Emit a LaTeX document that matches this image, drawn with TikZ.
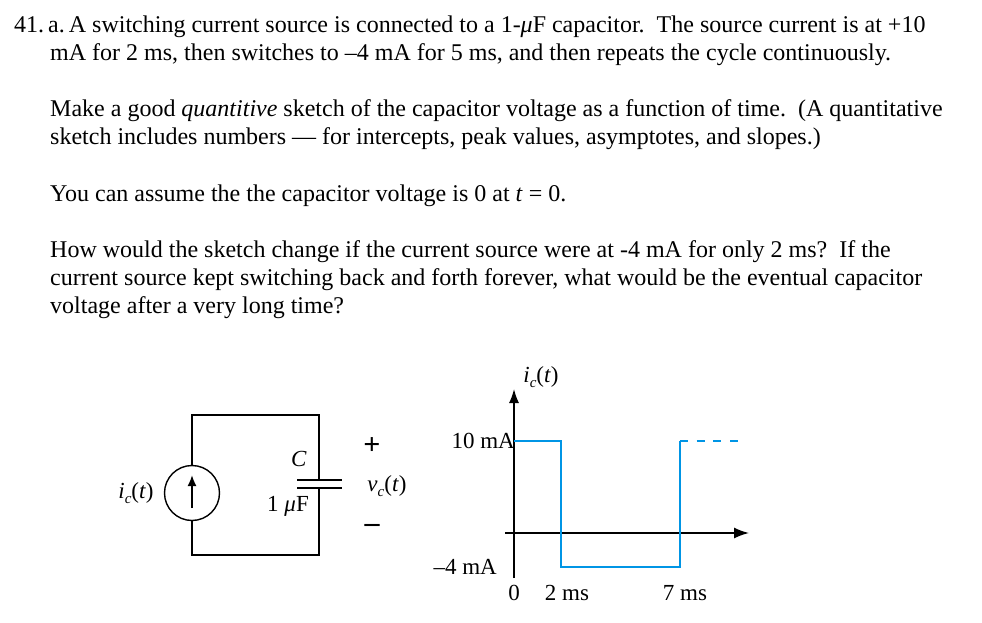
\documentclass[tikz,border=0pt]{standalone}
\usepackage{fontspec}
\setmainfont{Liberation Serif}
\usetikzlibrary{arrows.meta}
\tikzset{
 txt/.style={anchor=base west,inner sep=0pt,font=\fontsize{24}{28}\selectfont},
 lbl/.style={inner sep=0pt,font=\fontsize{23}{26}\selectfont},
 wire/.style={line width=1.4pt},
 sig/.style={line width=1.9pt,color=blue!35!cyan!90!black},
}
\newcommand{\subc}{\raisebox{-0.45ex}{\fontsize{15}{16}\selectfont\textit{c}}}
\begin{document}
\begin{tikzpicture}[x=1pt,y=-1pt]
\useasboundingbox (0,0) rectangle (982,623);
\node[txt] (l1) at (14,33) {41.\,a.\,A switching current source is connected to a 1-\textit{μ}F capacitor.\ \ The source current is at +10};
\node[txt] (l2) at (50,61) {mA for 2 ms, then switches to –4 mA for 5 ms, and then repeats the cycle continuously.};
\node[txt] (l3) at (50,117) {Make a good \textit{quantitive} sketch of the capacitor voltage as a function of time.\ \ (A quantitative};
\node[txt] (l4) at (50,145) {sketch includes numbers — for intercepts, peak values, asymptotes, and slopes.)};
\node[txt] (l5) at (50,201) {You can assume the the capacitor voltage is 0 at \textit{t} = 0.};
\node[txt] (l6) at (50,257) {How would the sketch change if the current source were at -4 mA for only 2 ms?\ \ If the};
\node[txt] (l7) at (50,285) {current source kept switching back and forth forever, what would be the eventual capacitor};
\node[txt] (l8) at (50,313) {voltage after a very long time?};
% circuit
\node[draw,circle,wire,minimum size=55pt,inner sep=0pt] (src) at (192,493) {};
\draw[wire] (src.north) -- (192,415) -- (319,415) -- (319,480);
\draw[wire] (src.south) -- (192,555) -- (319,555) -- (319,488);
\draw[line width=2pt] (297,480) -- (342,480);
\draw[line width=2pt] (297,488) -- (342,488);
\draw[line width=1.8pt,-{Latex[length=11pt,width=9pt]}] (192,508) -- (192,475);
\node[lbl] (ic) at (136,493) {\textit{i}\subc(\textit{t})};
\node[lbl] (C) at (299,459) {\textit{C}};
\node[lbl] (cap) at (288,506) {1 \textit{μ}F};
\node[lbl,font=\bfseries\fontsize{30}{30}\selectfont] (plus) at (372,446) {+};
\node[lbl,font=\bfseries\fontsize{30}{30}\selectfont] (minus) at (372,528) {–};
\node[lbl] (vc) at (387,486) {\textit{v}\subc(\textit{t})};
% graph
\coordinate (yb) at (514,578); \coordinate (yt) at (514,389);
\coordinate (xl) at (505,533); \coordinate (xr) at (749,533);
\draw[line width=1.5pt,-{Latex[length=14pt,width=10pt]}] (yb) -- (yt);
\draw[line width=1.5pt,-{Latex[length=15pt,width=11pt]}] (xl) -- (xr);
\draw[sig] (514,441) -- (561,441) -- (561,567) -- (680,567) -- (680,441);
\draw[sig,dash pattern=on 8pt off 8.7pt] (680,441) -- (738,441);
\node[lbl] (it) at (541,377) {\textit{i}\subc(\textit{t})};
\node[lbl,anchor=east] (ten) at (515,441) {10 mA};
\node[lbl,anchor=east] (m4) at (497,567) {–4 mA};
\node[lbl] (z) at (514,593) {0};
\node[lbl] (t2) at (567,593) {2 ms};
\node[lbl] (t7) at (685,593) {7 ms};
\end{tikzpicture}
\end{document}
